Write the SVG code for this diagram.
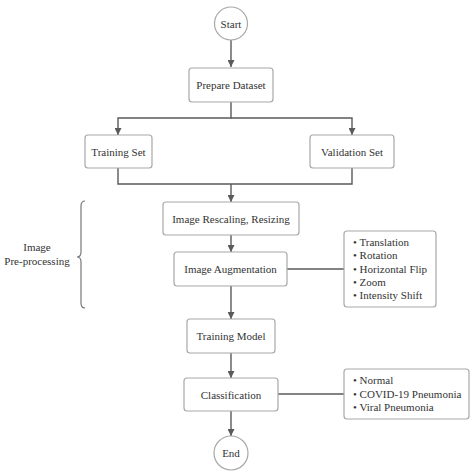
<svg xmlns="http://www.w3.org/2000/svg" width="474" height="474" viewBox="0 0 474 474">
<style>
.node rect, .node circle { fill: #fff; stroke: #a8a8a8; stroke-width: 1.2; }
text { font-family: "Liberation Serif", "Times New Roman", serif; font-size: 11px; fill: #333; }
.c { text-anchor: middle; dominant-baseline: central; }
.edge { fill: none; stroke: #5a5a5a; stroke-width: 1.4; }
.brace { fill: none; stroke: #777; stroke-width: 1.2; }
</style>
<defs>
<marker id="arr" viewBox="0 0 10 10" refX="10" refY="5" markerWidth="7" markerHeight="7" markerUnits="userSpaceOnUse" orient="auto">
<path d="M0,0 L10,5 L0,10 z" fill="#5a5a5a"/>
</marker>
</defs>
<rect width="474" height="474" fill="#fff"/>
<g id="connectors">
<path class="edge" d="M231,40 V67" marker-end="url(#arr)"/>
<path class="edge" d="M231,102 V118 H118 V135" marker-end="url(#arr)"/>
<path class="edge" d="M231,118 H352 V135" marker-end="url(#arr)"/>
<path class="edge" d="M118,168 V184 H352 V168"/>
<path class="edge" d="M231,184 V202" marker-end="url(#arr)"/>
<path class="edge" d="M231,235 V252" marker-end="url(#arr)"/>
<path class="edge" d="M287,269 H344"/>
<path class="edge" d="M231,286 V319" marker-end="url(#arr)"/>
<path class="edge" d="M231,353 V378" marker-end="url(#arr)"/>
<path class="edge" d="M278,394 H344"/>
<path class="edge" d="M231,411 V436" marker-end="url(#arr)"/>
</g>
<g id="start" class="node"><circle cx="231" cy="23.5" r="16.5"/><text class="c" x="231" y="23.5">Start</text></g>
<g id="prepare" class="node"><rect x="189" y="68" width="84" height="34" rx="3"/><text class="c" x="231" y="85">Prepare Dataset</text></g>
<g id="training-set" class="node"><rect x="85" y="135" width="67" height="33" rx="3"/><text class="c" x="118.5" y="151.5">Training Set</text></g>
<g id="validation-set" class="node"><rect x="310" y="135" width="84" height="33" rx="3"/><text class="c" x="352" y="151.5">Validation Set</text></g>
<g id="rescaling" class="node"><rect x="163" y="202" width="136" height="33" rx="3"/><text class="c" x="231" y="218.5">Image Rescaling, Resizing</text></g>
<g id="augmentation" class="node"><rect x="174" y="252" width="113" height="34" rx="3"/><text class="c" x="230.5" y="269">Image Augmentation</text></g>
<g id="aug-list" class="node"><rect x="344" y="231" width="92" height="76" rx="3"/>
<text x="353" y="242" dominant-baseline="central">• Translation</text>
<text x="353" y="255.3" dominant-baseline="central">• Rotation</text>
<text x="353" y="268.6" dominant-baseline="central">• Horizontal Flip</text>
<text x="353" y="281.9" dominant-baseline="central">• Zoom</text>
<text x="353" y="295.2" dominant-baseline="central">• Intensity Shift</text>
</g>
<g id="training-model" class="node"><rect x="187" y="319" width="88" height="34" rx="3"/><text class="c" x="231" y="336">Training Model</text></g>
<g id="classification" class="node"><rect x="184" y="378" width="94" height="33" rx="3"/><text class="c" x="231" y="394.5">Classification</text></g>
<g id="class-list" class="node"><rect x="344" y="369" width="125" height="50" rx="3"/>
<text x="353" y="380" dominant-baseline="central">• Normal</text>
<text x="353" y="393.5" dominant-baseline="central">• COVID-19 Pneumonia</text>
<text x="353" y="407" dominant-baseline="central">• Viral Pneumonia</text>
</g>
<g id="end" class="node"><circle cx="231" cy="453" r="17"/><text class="c" x="231" y="453">End</text></g>
<g id="preprocessing-label">
<path class="brace" d="M85,201 Q81,201 81,206 V252 Q81,257 77,257 Q81,257 81,262 V303 Q81,308 85,308"/>
<text class="c" x="37" y="247">Image</text>
<text class="c" x="37" y="261">Pre-processing</text>
</g>
</svg>
